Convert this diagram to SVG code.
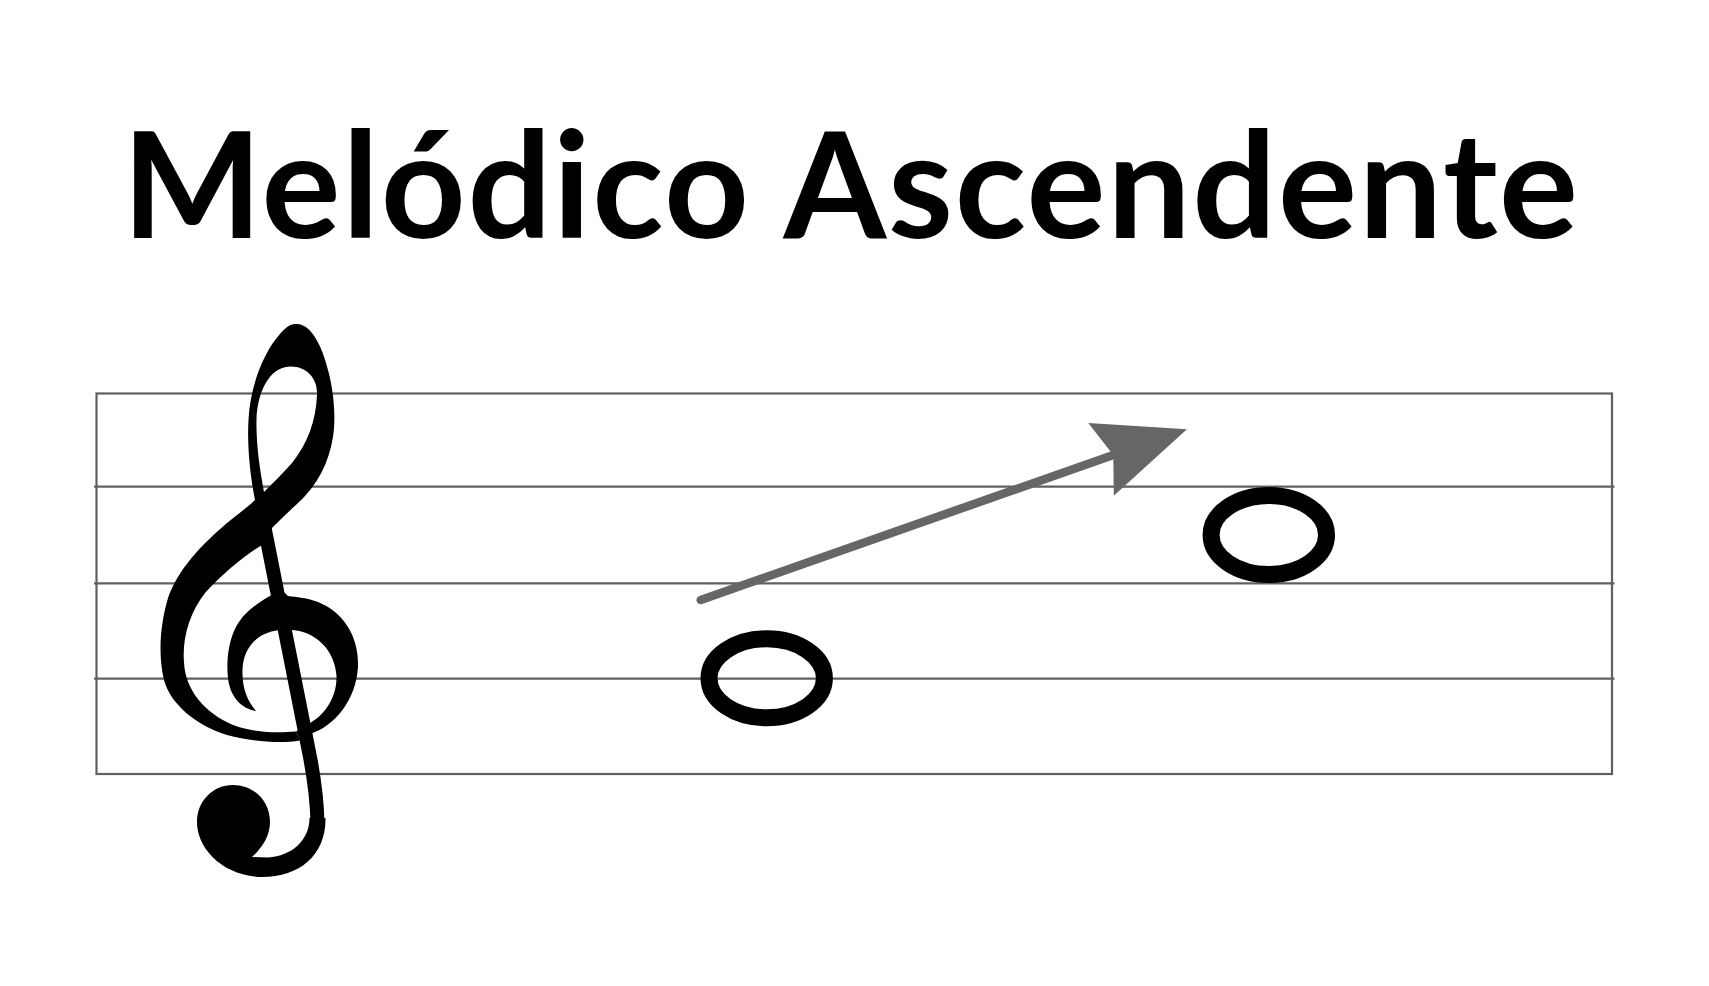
<svg xmlns="http://www.w3.org/2000/svg" width="1709" height="986" viewBox="0 0 1709 986">
  <style>
    .title { font-family: Lato, "Liberation Sans", sans-serif; font-weight: 700; font-size: 148px; letter-spacing: 1.7px; fill: #000; }
    .staff { fill: none; stroke: #606060; stroke-width: 2.2; }
    .note { fill: none; stroke: #000; stroke-width: 17; }
    .ink { fill: #000; }
    .arrow { fill: none; stroke: #666; stroke-width: 8.5; stroke-linecap: round; }
  </style>
  <defs>
    <marker id="ah" markerUnits="userSpaceOnUse" orient="auto" refX="0" refY="0" markerWidth="100" markerHeight="100" style="overflow:visible">
      <path d="M 0,0 L -13,-38.5 L 78,0 L -13,38.5 Z" fill="#666"/>
    </marker>
  </defs>
  <rect width="1709" height="986" fill="#fff"/>

  <g id="title">
    <text class="title" x="851" y="238" text-anchor="middle">Melódico Ascendente</text>
  </g>

  <g id="staff">
    <rect class="staff" x="96.5" y="393.5" width="1515.5" height="380.5"/>
    <line class="staff" x1="94" y1="486.7" x2="1614.5" y2="486.7"/>
    <line class="staff" x1="94" y1="583.3" x2="1614.5" y2="583.3"/>
    <line class="staff" x1="94" y1="678.7" x2="1614.5" y2="678.7"/>
  </g>

  <g id="clef">
    <path class="ink" fill-rule="evenodd" d="M 295,324 C 310,322 322,345 328,370 C 334,392 336,418 333,437 C 329,462 318,485 297,504 C 288,512 280,520 272,528 L 262,545 C 245,555 222,574 205,593 C 190,612 182,638 184,662 C 185,690 205,713 233,725 C 255,733 278,733 296,731.5 L 300,740.5 C 278,744 250,741 227,735 C 195,725 170,703 164,680 C 158,655 160,625 168,598 C 178,570 200,545 232,519 C 242,511 250,505 255,500 C 250,475 247,445 248.5,420 C 250,385 265,350 280,334 C 285,328 290,324 295,324 Z M 290,366.5 C 306,366 318,378 317,395 C 316,420 308,443 292,463 C 283,473 273,483 264,492 C 260,470 256,445 256.5,420 C 257,395 268,367 290,366.5 Z"/>
    <path class="ink" d="M 268,597 C 258,603 244,612 236,627 C 229,640 226,660 228,678 C 230,697 242,709 256,711 C 247,700 242,688 242.5,670 C 243,650 255,633 279,630 L 292,630 C 315,631 335,650 336.5,676 C 337,700 322,717 308,724 L 296,731.5 L 300,740.5 L 310,734 C 335,726 356,700 358,667 C 359,638 345,613 318,602 C 308,598 296,597 288,596 L 282,590 Z"/>
    <path d="M 262,515 L 310,757 C 314,778 317,800 317.5,823" fill="none" stroke="#000" stroke-width="14"/>
    <path class="ink" d="M 309.5,818 C 309.5,840 292,856 268,857.5 L 252,857 C 262,848 270,836 270,822 C 270,800 253,785 233,785 C 213,785 197,801 197,822 C 197,848 222,876 262,877 C 300,877 326,855 325.5,818 Z"/>
  </g>

  <g id="note1">
    <ellipse class="note" cx="766.7" cy="678.3" rx="57.7" ry="39.5"/>
  </g>
  <g id="note2">
    <ellipse class="note" cx="1268.8" cy="535" rx="57.7" ry="39.5"/>
  </g>

  <g id="connectors">
    <path class="arrow" d="M 700.7,600 L 1113.3,455" marker-end="url(#ah)"/>
  </g>
</svg>
